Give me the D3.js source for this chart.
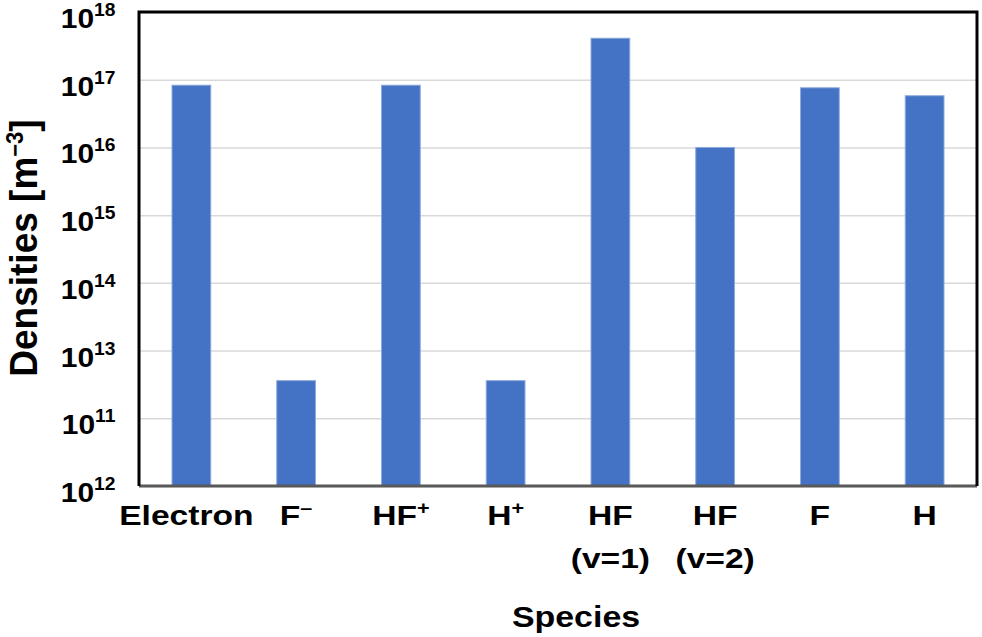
<!DOCTYPE html>
<html>
<head>
<meta charset="utf-8">
<script src="https://cdn.jsdelivr.net/npm/d3@7"></script>
<style>
  body { margin: 0; background: #fff; }
  text { font-family: "Liberation Sans", Arial, sans-serif; font-weight: bold; fill: #000; }
</style>
</head>
<body>
<div id="chart"></div>
<script>
// chart data
var species = ["Electron", "F-", "HF+", "H+", "HF (v=1)", "HF (v=2)", "F", "H"];
var densities = [8.3e16, 3.6e12, 8.3e16, 3.6e12, 4.1e17, 1.0e16, 7.6e16, 5.8e16];

// tick positions (decades) and the exponent labels printed next to them
var tickValues = [1e11, 1e12, 1e13, 1e14, 1e15, 1e16, 1e17, 1e18];
var tickExponents = ["12", "11", "13", "14", "15", "16", "17", "18"];

// x labels: main text, superscript, second line
var labelMain = ["Electron", "F", "HF", "H", "HF", "HF", "F", "H"];
var labelSup = ["", "\u2013", "+", "+", "", "", "", ""];
var labelLine2 = ["", "", "", "", "(v=1)", "(v=2)", "", ""];

var svgWidth = 982;
var svgHeight = 637;
var margin = { top: 12, right: 5, bottom: 151, left: 139 };
var width = svgWidth - margin.left - margin.right;
var height = svgHeight - margin.top - margin.bottom;

// the figure text looks stretched sideways, so text gets a small x scale
var stretch = 1.2;

var svg = d3.select("#chart")
  .append("svg")
  .attr("width", svgWidth)
  .attr("height", svgHeight);

var chartGroup = svg.append("g")
  .attr("transform", `translate(${margin.left}, ${margin.top})`);

var x = d3.scaleBand()
  .domain(species)
  .range([0, width])
  .paddingInner(0.63)
  .paddingOuter(0.315);

var y = d3.scaleLog()
  .domain([1e11, 1e18])
  .range([height, 0]);

// gridlines
var grid = chartGroup.append("g")
  .call(d3.axisLeft(y).tickValues(tickValues).tickSize(-width).tickFormat(""));
grid.select(".domain").remove();
grid.selectAll("line").attr("stroke", "#d9d9d9").attr("stroke-width", 1.5);

// bars
chartGroup.selectAll(".bar")
  .data(species)
  .enter()
  .append("rect")
  .attr("class", "bar")
  .attr("x", d => x(d))
  .attr("width", x.bandwidth())
  .attr("y", (d, i) => y(densities[i]))
  .attr("height", (d, i) => height - y(densities[i]))
  .attr("fill", "#4472c4")
  .attr("stroke", "#8faadc")
  .attr("stroke-width", 1);

// y tick labels with superscript exponents
var yAxis = chartGroup.append("g")
  .call(d3.axisLeft(y).tickValues(tickValues).tickSize(0).tickPadding(22).tickFormat(""));
yAxis.select(".domain").remove();
yAxis.selectAll(".tick text")
  .attr("dy", 15.5)
  .attr("transform", "scale(1.07,1)")
  .style("font-size", "28px")
  .attr("text-anchor", "end")
  .each(function(d, i) {
    var t = d3.select(this);
    t.append("tspan").text("10");
    t.append("tspan")
      .attr("dy", -12)
      .style("font-size", "18px")
      .text(tickExponents[i]);
  });

// x tick labels
var xAxis = chartGroup.append("g")
  .attr("transform", `translate(0, ${height})`)
  .call(d3.axisBottom(x).tickSize(0).tickFormat(""));
xAxis.select(".domain").remove();
xAxis.selectAll(".tick text")
  .attr("y", 0)
  .attr("dy", 0)
  .style("font-size", "28px")
  .each(function(d, i) {
    var t = d3.select(this);
    var shift = i === 0 ? -5 : 0; // "Electron" sits a bit left of its bar
    t.attr("transform", `translate(${shift}, 39) scale(${stretch},1)`);
    t.append("tspan").text(labelMain[i]);
    if (labelSup[i] !== "") {
      t.append("tspan")
        .attr("dy", -11)
        .style("font-size", "18px")
        .text(labelSup[i]);
    }
    if (labelLine2[i] !== "") {
      t.append("tspan")
        .attr("x", 0)
        .attr("dy", 43)
        .text(labelLine2[i]);
    }
  });

// plot frame
chartGroup.append("line")
  .attr("x1", 0).attr("x2", width)
  .attr("y1", height).attr("y2", height)
  .attr("stroke", "#595959").attr("stroke-width", 3);
chartGroup.append("path")
  .attr("d", `M0,${height} V0 H${width} V${height}`)
  .attr("fill", "none")
  .attr("stroke", "#000")
  .attr("stroke-width", 3);

// axis titles
svg.append("text")
  .attr("transform", "translate(37, 248) scale(1.05,1) rotate(-90)")
  .attr("text-anchor", "middle")
  .style("font-size", "37px")
  .call(function(t) {
    t.append("tspan").text("Densities [m");
    t.append("tspan").attr("dy", -13).style("font-size", "22px").text("\u22123");
    t.append("tspan").attr("dy", 13).text("]");
  });

svg.append("text")
  .attr("transform", "translate(576, 627) scale(1.17,1)")
  .attr("text-anchor", "middle")
  .style("font-size", "29px")
  .text("Species");
</script>
</body>
</html>
